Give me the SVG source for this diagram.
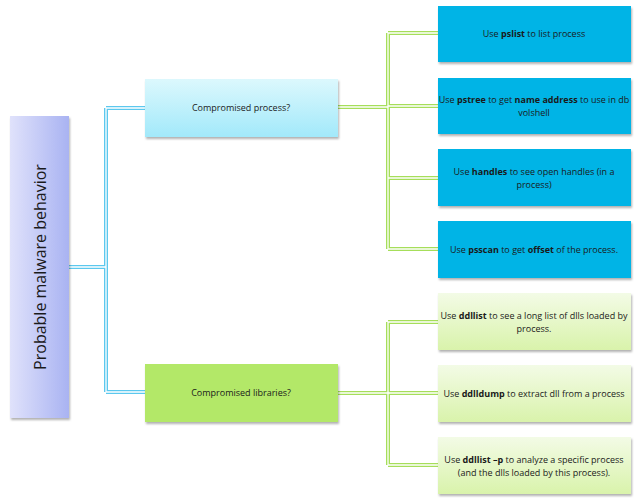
<svg xmlns="http://www.w3.org/2000/svg" width="639" height="502" viewBox="0 0 639 502">
<defs>
<linearGradient id="gRoot" x1="0" y1="0" x2="1" y2="0"><stop offset="0" stop-color="#e0e2fb"/><stop offset="1" stop-color="#a9b3f2"/></linearGradient>
<linearGradient id="gProc" x1="0" y1="0" x2="0" y2="1"><stop offset="0" stop-color="#dcf8fd"/><stop offset="1" stop-color="#a2e9fa"/></linearGradient>
<linearGradient id="gLeaf" x1="0" y1="0" x2="0" y2="1"><stop offset="0" stop-color="#f3fbe6"/><stop offset="1" stop-color="#d9f3ab"/></linearGradient>
<filter id="sh" x="-5%" y="-5%" width="115%" height="120%"><feDropShadow dx="1" dy="2" stdDeviation="1" flood-color="#000" flood-opacity="0.3"/></filter>
</defs>
<style>
text{font-family:"Open Sans","Liberation Sans",sans-serif;font-size:9px;fill:#1a1a1a;text-anchor:middle}
b{font-weight:bold}
.bl{fill:none;stroke:#5cc8ee;stroke-width:4}
.gl{fill:none;stroke:#a6de5a;stroke-width:4}
.in{fill:none;stroke:#fff;stroke-width:1.3}
.b{font-weight:bold}
</style>
<rect width="639" height="502" fill="#fff"/>
<g id="connectors">
<path class="bl" d="M69 267H106M106 108V392M106 108H145M106 392H145"/>
<path class="in" d="M69 267H106M106 108V392M106 108H145M106 392H145"/>
<path class="gl" d="M338 107H388M388 33V249M388 33H438M388 106H438M388 178H438M388 249H438"/>
<path class="in" d="M338 107H388M388 33V249M388 33H438M388 106H438M388 178H438M388 249H438"/>
<path class="gl" d="M338 393H388M388 322V465M388 322H438M388 393H438M388 465H438"/>
<path class="in" d="M338 393H388M388 322V465M388 322H438M388 393H438M388 465H438"/>
</g>
<g id="root"><rect x="10" y="116" width="59" height="302" fill="url(#gRoot)" filter="url(#sh)"/>
<text transform="translate(46 267) rotate(-90)" style="font-size:16px">Probable malware behavior</text></g>
<g id="proc"><rect x="145" y="79" width="193" height="58" fill="url(#gProc)" filter="url(#sh)"/><text x="241" y="111">Compromised process?</text></g>
<g id="lib"><rect x="145" y="364" width="193" height="58" fill="#b3e867" filter="url(#sh)"/><text x="241" y="396">Compromised libraries?</text></g>
<g id="p1"><rect x="438" y="6" width="193" height="56" fill="#00b4e6" filter="url(#sh)"/><text x="534" y="37">Use <tspan class="b">pslist</tspan> to list process</text></g>
<g id="p2"><rect x="438" y="78" width="193" height="56" fill="#00b4e6" filter="url(#sh)"/><text x="534" y="103">Use <tspan class="b">pstree</tspan> to get <tspan class="b">name address</tspan> to use in db</text><text x="534" y="116">volshell</text></g>
<g id="p3"><rect x="438" y="149" width="193" height="57" fill="#00b4e6" filter="url(#sh)"/><text x="534" y="175">Use <tspan class="b">handles</tspan> to see open handles (in a</text><text x="534" y="188">process)</text></g>
<g id="p4"><rect x="438" y="221" width="193" height="57" fill="#00b4e6" filter="url(#sh)"/><text x="534" y="253">Use <tspan class="b">psscan</tspan> to get <tspan class="b">offset</tspan> of the process.</text></g>
<g id="l1"><rect x="438" y="293" width="193" height="57" fill="url(#gLeaf)" filter="url(#sh)"/><text x="534" y="319">Use <tspan class="b">ddllist</tspan> to see a long list of dlls loaded by</text><text x="534" y="332">process.</text></g>
<g id="l2"><rect x="438" y="365" width="193" height="57" fill="url(#gLeaf)" filter="url(#sh)"/><text x="534" y="397">Use <tspan class="b">ddlldump</tspan> to extract dll from a process</text></g>
<g id="l3"><rect x="438" y="437" width="193" height="57" fill="url(#gLeaf)" filter="url(#sh)"/><text x="534" y="463">Use <tspan class="b">ddllist –p</tspan> to analyze a specific process</text><text x="534" y="476">(and the dlls loaded by this process).</text></g>
</svg>
